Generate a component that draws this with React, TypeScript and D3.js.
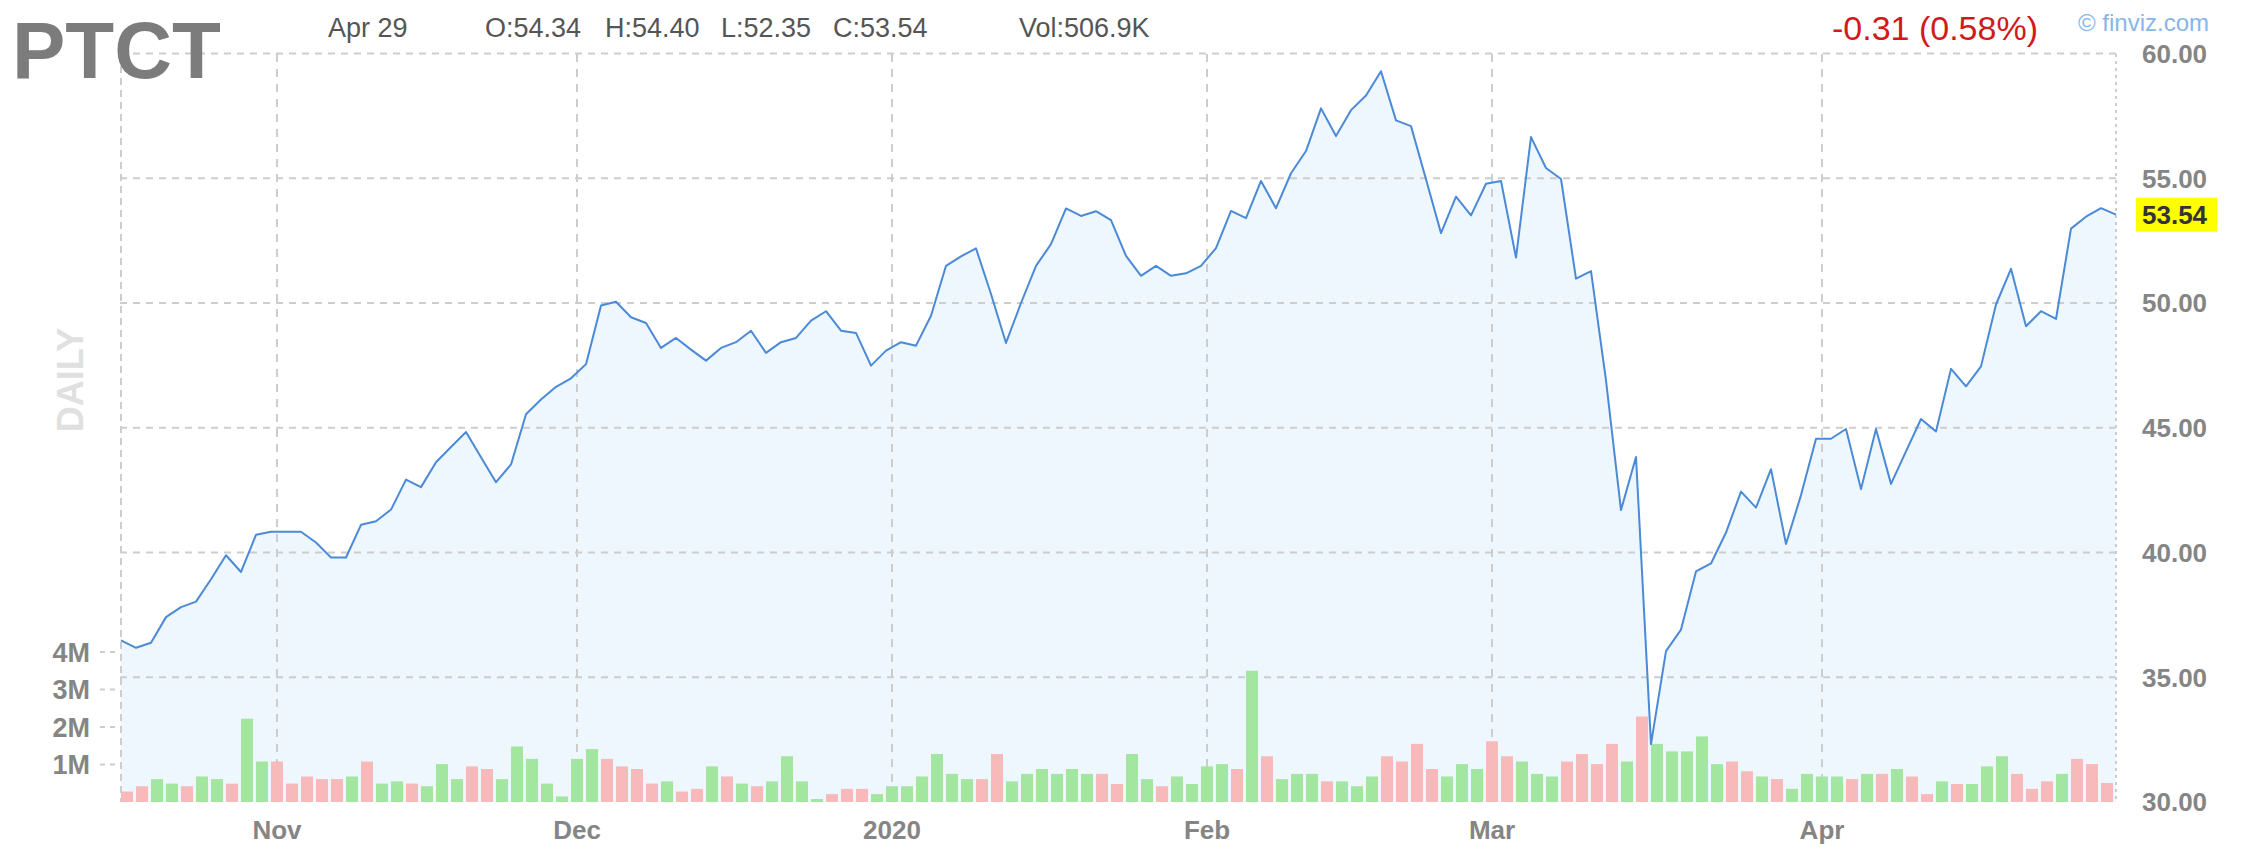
import React from 'react';
import * as d3 from 'd3';

// Daily closes, Oct 17 2019 .. Apr 29 2020 (134 points)
const closes: number[] = [
  36.48, 36.18, 36.38, 37.41, 37.81, 38.03, 38.93, 39.89, 39.22, 40.71,
  40.83, 40.83, 40.83, 40.40, 39.80, 39.80, 41.11, 41.25, 41.72, 42.92,
  42.62, 43.62, 44.23, 44.83, 43.82, 42.82, 43.53, 45.54, 46.13, 46.64,
  46.98, 47.55, 49.90, 50.05, 49.43, 49.20, 48.20, 48.60, 48.13, 47.69,
  48.20, 48.43, 48.89, 48.00, 48.43, 48.60, 49.29, 49.67, 48.89, 48.80,
  47.49, 48.09, 48.43, 48.29, 49.49, 51.49, 51.87, 52.19, 50.36, 48.40,
  50.00, 51.49, 52.36, 53.79, 53.49, 53.68, 53.32, 51.89, 51.09, 51.49,
  51.09, 51.19, 51.49, 52.20, 53.69, 53.40, 54.89, 53.80, 55.20, 56.09,
  57.80, 56.69, 57.73, 58.32, 59.29, 57.32, 57.09, 54.96, 52.80, 54.26,
  53.51, 54.78, 54.89, 51.82, 56.65, 55.41, 54.97, 50.98, 51.28, 46.90,
  41.70, 43.83, 32.32, 36.05, 36.91, 39.24, 39.56, 40.80, 42.44, 41.80,
  43.34, 40.34, 42.30, 44.56, 44.56, 44.95, 42.54, 44.95, 42.75, 44.05,
  45.35, 44.85, 47.36, 46.66, 47.46, 49.94, 51.37, 49.07, 49.67, 49.36,
  52.98, 53.46, 53.80, 53.54,
];

// Daily volume in millions, Oct 18 2019 .. Apr 29 2020 (133 bars)
const volumes: number[] = [
  0.28, 0.42, 0.61, 0.49, 0.42, 0.68, 0.61, 0.49, 2.22, 1.08,
  1.08, 0.49, 0.68, 0.61, 0.61, 0.68, 1.08, 0.49, 0.55, 0.49,
  0.42, 1.01, 0.61, 0.95, 0.88, 0.61, 1.48, 1.15, 0.49, 0.15,
  1.15, 1.41, 1.15, 0.95, 0.88, 0.49, 0.55, 0.28, 0.35, 0.95,
  0.68, 0.49, 0.42, 0.55, 1.22, 0.55, 0.08, 0.21, 0.35, 0.35,
  0.21, 0.42, 0.42, 0.68, 1.28, 0.75, 0.61, 0.61, 1.28, 0.55,
  0.75, 0.88, 0.75, 0.88, 0.75, 0.75, 0.48, 1.28, 0.61, 0.42,
  0.68, 0.48, 0.95, 1.01, 0.88, 3.50, 1.22, 0.61, 0.75, 0.75,
  0.55, 0.55, 0.42, 0.68, 1.22, 1.08, 1.55, 0.88, 0.68, 1.01,
  0.88, 1.62, 1.22, 1.08, 0.75, 0.68, 1.08, 1.28, 1.01, 1.55,
  1.08, 2.28, 1.55, 1.35, 1.35, 1.75, 1.01, 1.08, 0.82, 0.68,
  0.61, 0.35, 0.75, 0.68, 0.68, 0.61, 0.75, 0.75, 0.88, 0.68,
  0.21, 0.55, 0.48, 0.48, 0.95, 1.22, 0.75, 0.35, 0.55, 0.75,
  1.15, 1.01, 0.507,
];

// 1 = up day (green), 0 = down day (red)
const volumeUp: number[] = [
  0, 0, 1, 1, 0, 1, 1, 0, 1, 1,
  0, 0, 0, 0, 0, 1, 0, 1, 1, 0,
  1, 1, 1, 0, 0, 1, 1, 1, 1, 1,
  1, 1, 0, 0, 0, 0, 1, 0, 0, 1,
  0, 1, 0, 1, 1, 1, 1, 0, 0, 0,
  1, 1, 1, 1, 1, 1, 1, 0, 0, 1,
  1, 1, 1, 1, 1, 0, 0, 1, 1, 0,
  1, 1, 1, 1, 0, 1, 0, 1, 1, 1,
  0, 1, 1, 1, 0, 0, 0, 0, 1, 1,
  1, 0, 0, 1, 1, 1, 0, 0, 0, 0,
  1, 0, 1, 1, 1, 1, 1, 0, 0, 1,
  0, 1, 1, 1, 1, 0, 1, 0, 1, 0,
  0, 1, 0, 1, 1, 1, 0, 0, 0, 1,
  0, 0, 0,
];

const priceTicks: number[] = [30, 35, 40, 45, 50, 55, 60];
const priceGridTicks: number[] = [35, 40, 45, 50, 55, 60];
const volumeTicks: number[] = [1, 2, 3, 4];
const volumeTickLabels: string[] = ['1M', '2M', '3M', '4M'];
const monthTickIndex: number[] = [10, 30, 51, 72, 91, 113];
const monthLabels: string[] = ['Nov', 'Dec', '2020', 'Feb', 'Mar', 'Apr'];

const ticker = 'PTCT';
const dateLabel = 'Apr 29';
const ohlcLabels: string[] = ['O:54.34', 'H:54.40', 'L:52.35', 'C:53.54'];
const volLabel = 'Vol:506.9K';
const changeLabel = '-0.31 (0.58%)';
const lastPrice = 53.54;

const FONT = '"Liberation Sans", Arial, Helvetica, sans-serif';

export default function App() {
  const W = 2255;
  const H = 857;
  const plotTop = 54;
  const plotBottom = 802;
  const plotLeft = 120;
  const plotRight = 2116;

  const y = d3.scaleLinear().domain([30, 60]).range([plotBottom, 53.5]);
  const yVol = d3.scaleLinear().domain([0, 4]).range([plotBottom, 652]);
  const xBand = d3
    .scaleBand<number>()
    .domain(d3.range(volumes.length))
    .range([119.5, 2114.5])
    .paddingInner(0.2)
    .paddingOuter(0.1);
  const xLine = d3.scaleLinear().domain([0, closes.length - 1]).range([121, 2116]);

  const lineGen = d3
    .line<number>()
    .x((_, i) => xLine(i))
    .y((d) => y(d));
  const areaGen = d3
    .area<number>()
    .x((_, i) => xLine(i))
    .y0(plotBottom)
    .y1((d) => y(d));

  const bw = xBand.bandwidth();
  const monthX = (i: number) => (xBand(i) as number) + bw / 2;

  const gridColor = '#cdcdcd';
  const axisColor = '#858585';
  const ohlcX = [485, 605, 721, 833];

  return (
    <svg
      width={W}
      height={H}
      viewBox={`0 0 ${W} ${H}`}
      style={{ position: 'absolute', left: 0, top: 0, display: 'block', background: '#fff' }}
      fontFamily={FONT}
    >
      <rect x={0} y={0} width={W} height={H} fill="#fff" />

      {/* area fill */}
      <path d={areaGen(closes) || ''} fill="#eef6fe" />

      {/* DAILY */}
      <text
        transform={`translate(83, 380) rotate(-90)`}
        textAnchor="middle"
        fontSize={36}
        fontWeight="bold"
        fill="#e0e0e0"
      >
        DAILY
      </text>

      {/* horizontal gridlines */}
      {priceGridTicks.map((t) => (
        <line
          key={'hg' + t}
          x1={plotLeft}
          x2={plotRight}
          y1={y(t)}
          y2={y(t)}
          stroke={gridColor}
          strokeWidth={2}
          strokeDasharray="7,6"
        />
      ))}

      {/* vertical month gridlines */}
      {monthTickIndex.map((idx) => (
        <line
          key={'vg' + idx}
          x1={monthX(idx)}
          x2={monthX(idx)}
          y1={plotTop}
          y2={plotBottom}
          stroke={gridColor}
          strokeWidth={2}
          strokeDasharray="8,7"
        />
      ))}

      {/* borders */}
      <line x1={plotLeft + 1} x2={plotLeft + 1} y1={plotTop} y2={plotBottom} stroke={gridColor} strokeWidth={2} strokeDasharray="7,5" />
      <line x1={plotRight} x2={plotRight} y1={plotTop} y2={plotBottom} stroke={gridColor} strokeWidth={2} strokeDasharray="3,4" />

      {/* volume bars */}
      {volumes.map((v, i) => (
        <rect
          key={'v' + i}
          x={xBand(i) as number}
          y={yVol(v)}
          width={bw}
          height={plotBottom - yVol(v)}
          fill={volumeUp[i] ? '#a2e6a0' : '#f7b9b9'}
        />
      ))}

      {/* price line */}
      <path d={lineGen(closes) || ''} fill="none" stroke="#4a8ad6" strokeWidth={2} strokeLinejoin="round" />

      {/* right price axis */}
      {priceTicks.map((t) => (
        <text key={'pt' + t} x={2142} y={y(t)} dy="0.36em" fontSize={26} fontWeight="bold" fill={axisColor}>
          {t.toFixed(2)}
        </text>
      ))}
      <rect x={2136} y={y(lastPrice) - 17} width={81} height={34} fill="#ffff00" />
      <text x={2142} y={y(lastPrice)} dy="0.36em" fontSize={26} fontWeight="bold" fill="#333">
        {lastPrice.toFixed(2)}
      </text>

      {/* left volume axis */}
      {volumeTicks.map((t, i) => (
        <g key={'vt' + t}>
          <text x={90} y={yVol(t)} dy="0.36em" textAnchor="end" fontSize={27} fontWeight="bold" fill={axisColor}>
            {volumeTickLabels[i]}
          </text>
          <line x1={100} x2={120} y1={yVol(t)} y2={yVol(t)} stroke={gridColor} strokeWidth={2} strokeDasharray="5,5" />
        </g>
      ))}

      {/* month labels */}
      {monthTickIndex.map((idx, i) => (
        <text key={'ml' + idx} x={monthX(idx)} y={839} textAnchor="middle" fontSize={26} fontWeight="bold" fill={axisColor}>
          {monthLabels[i]}
        </text>
      ))}

      {/* header */}
      <text x={12} y={78} fontSize={80} fontWeight="bold" fill="#7c7c7c">
        {ticker}
      </text>
      <text x={328} y={37} fontSize={27} fill="#555">
        {dateLabel}
      </text>
      {ohlcLabels.map((s, i) => (
        <text key={'o' + i} x={ohlcX[i]} y={37} fontSize={27} fill="#555">
          {s}
        </text>
      ))}
      <text x={1019} y={37} fontSize={27} fill="#555">
        {volLabel}
      </text>
      <text x={2038} y={40} fontSize={34} textAnchor="end" fill="#d11a1a">
        {changeLabel}
      </text>
      <text x={2078} y={31} fontSize={24} fill="#86b6ea">
        © finviz.com
      </text>
    </svg>
  );
}
